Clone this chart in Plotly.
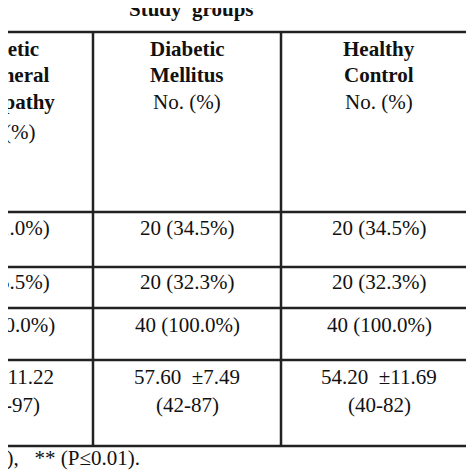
import plotly.graph_objects as go

# table content (left column is cropped in the source picture)
col1_text = ["betic", "pheral", "opathy", "(%)", "1.0%)", "5.5%)", "00.0%)", "±11.22", "-97)"]
col1_right = [42, 53, 58, 38, 53, 53, 58, 57, 43]
col1_y = [50, 76, 103, 133, 229, 283, 326, 378, 406]

col2_text = ["<b>Diabetic</b>", "<b>Mellitus</b>", "No. (%)", "20 (34.5%)", "20 (32.3%)",
             "40 (100.0%)", "57.60  ±7.49", "(42-87)"]
col3_text = ["<b>Healthy</b>", "<b>Control</b>", "No. (%)", "20 (34.5%)", "20 (32.3%)",
             "40 (100.0%)", "54.20  ±11.69", "(40-82)"]
col23_y = [50, 76, 103, 229, 283, 326, 378, 406]

h_lines = [33, 213, 268, 309, 361, 447]
v_lines = [94, 282]

fig = go.Figure()
fig.add_trace(go.Scatter(x=[0, 474], y=[0, 474], mode="markers", marker=dict(opacity=0), hoverinfo="skip"))

font = dict(family="Liberation Serif", size=21, color="#111")

for t, xr, y in zip(col1_text, col1_right, col1_y):
    if y < 110 and t != "(%)":
        t = "<b>" + t + "</b>"
    fig.add_annotation(x=xr, y=y, text=t, xanchor="right", showarrow=False, font=font)
for t, y in zip(col2_text, col23_y):
    fig.add_annotation(x=188, y=y, text=t, showarrow=False, font=font)
for t, y in zip(col3_text, col23_y):
    fig.add_annotation(x=380, y=y, text=t, showarrow=False, font=font)

fig.add_annotation(x=192, y=10, text="<b>Study  groups</b>", showarrow=False, font=font)
fig.add_annotation(x=143, y=459, text="5),   ** (P≤0.01).", xanchor="right", showarrow=False, font=font)

for y in h_lines:
    fig.add_shape(type="line", x0=-20, x1=500, y0=y, y1=y, line=dict(color="#222", width=2.5))
for x in v_lines:
    fig.add_shape(type="line", x0=x, x1=x, y0=h_lines[0], y1=h_lines[-1], line=dict(color="#222", width=2.5))

fig.update_layout(
    width=474, height=474, margin=dict(l=0, r=0, t=0, b=0),
    paper_bgcolor="white", plot_bgcolor="white", showlegend=False,
    xaxis=dict(range=[9, 483], visible=False, fixedrange=True),
    yaxis=dict(range=[483, 9], visible=False, fixedrange=True),
)
fig.write_html("out.html")
